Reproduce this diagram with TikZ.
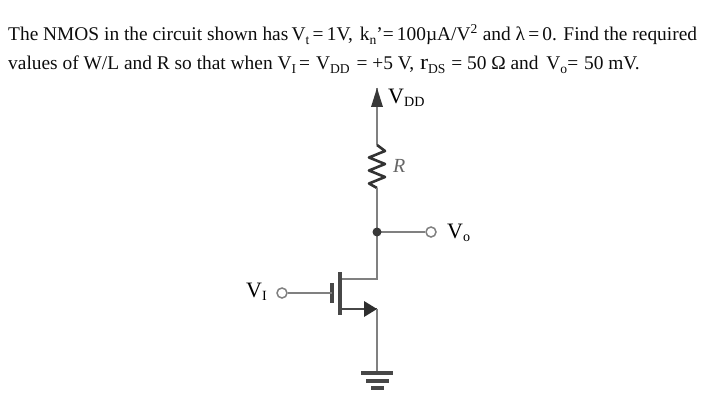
\documentclass[tikz,border=0pt]{standalone}
\usepackage{fontspec}
\setmainfont{Liberation Serif}
\usetikzlibrary{arrows.meta}
\newcommand{\sbs}[1]{\raisebox{-0.2em}{\scalebox{0.7}{#1}}}
\newcommand{\lbs}[1]{\raisebox{-0.16em}{\scalebox{0.64}{#1}}}
\begin{document}
\begin{tikzpicture}[x=1pt,y=-1pt,
  wire/.style={draw=black!50,line width=1.7pt},
  sourcewire/.style={draw=black!72,line width=1.7pt},
  zig/.style={draw=black!80,line width=2.6pt,line join=round},
  heavybar/.style={draw=black!72,line width=3.4pt},
  terminal/.style={circle,draw=black!50,fill=white,line width=1.5pt,inner sep=0pt,minimum size=10pt},
  label/.style={inner sep=0pt,anchor=base west,font=\fontsize{22}{22}\selectfont,text=black},
  para/.style={inner sep=0pt,anchor=base west,font=\fontsize{19.4}{21}\selectfont,text=black!95}]
\useasboundingbox (0,0) rectangle (725,409);
\node[para] (line1) at (8,41) {The NMOS in the circuit shown has \kern-1.5pt V\sbs{t}\,=\,1V,\kern2pt{} k\sbs{n}’=\,100µA/V\textsuperscript{2} and λ\,=\,0. Find the required};
\node[para] (line2) at (8,70) {values of W/L and R so that when V\sbs{I}\kern3pt{}=\kern6pt{}V\sbs{DD}\kern2pt{} = +5 V,\kern1pt{} {\scalebox{1.25}[1.12]{r}}\sbs{DS}\kern1pt{} = 50 Ω and \kern3pt V\sbs{o}=\kern1pt{} 50 mV.};
\coordinate (vdd) at (377,88);
\coordinate (rtop) at (377,145);
\coordinate (rbot) at (377,188);
\coordinate (j) at (377,232);
\coordinate (dr) at (377,279);
\coordinate (chd) at (340,279);
\coordinate (chs) at (340,309);
\coordinate (so) at (377,309);
\coordinate (gnd) at (377,373);
\coordinate (chT) at (340,272);
\coordinate (chB) at (340,315);
\coordinate (gT) at (332,283);
\coordinate (gB) at (332,303);
\coordinate (g) at (332,293);
\node[terminal] (vo) at (431,232) {};
\node[terminal] (vi) at (282,293) {};
\draw[wire] (vdd) -- (rtop);
\fill[black!78] (vdd) -- (383,107) -- (371,107) -- cycle;
\draw[zig] (rtop) -- (385,151) -- (369,157.5) -- (385,164) -- (369,170.5) -- (385,177) -- (369,183.5) -- (rbot);
\draw[wire] (rbot) -- (j) -- (dr) -- (chd);
\draw[wire] (j) -- (vo);
\fill[black!78] (j) circle (4.5pt);
\draw[heavybar] (chT) -- (chB);
\draw[heavybar] (gT) -- (gB);
\draw[wire] (vi) -- (g);
\draw[sourcewire] (chs) -- (so);
\fill[black!82] (so) -- (364,301) -- (364,317) -- cycle;
\draw[wire] (so) -- (gnd);
\draw[heavybar] (361,373) -- (393,373);
\draw[heavybar] (366,381) -- (389,381);
\draw[heavybar] (371,388) -- (384,388);
\node[inner sep=0pt,anchor=base west,font=\itshape\fontsize{20}{20}\selectfont,text=black!60] (rl) at (393,172) {R};
\node[label] (vddl) at (388,103) {V\lbs{DD}};
\node[label] (vol) at (447,238) {V\lbs{o}};
\node[label] (vil) at (246,297) {V\lbs{I}};
\end{tikzpicture}
\end{document}
